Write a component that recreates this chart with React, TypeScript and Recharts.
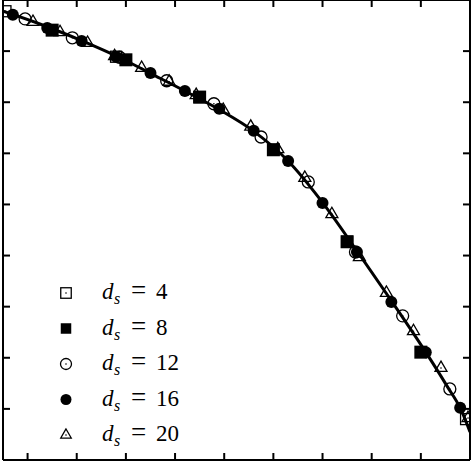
import { ComposedChart, Line, Scatter, XAxis, YAxis, Legend } from 'recharts';

// axis ticks (inward, on all four sides)
const xTicks = [0, 1, 2, 3, 4, 5, 6, 7, 8];
const yTicks = [1, 2, 3, 4, 5, 6, 7, 8];

// fitted curve
const curveX = [-0.5, 0.25, 1.11, 1.88, 2.49, 3.2, 3.91, 4.59, 5.3, 5.99, 6.7, 7.39, 8.1, 8.53, 8.82, 9.0];
const curveY = [8.78, 8.53, 8.2, 7.87, 7.57, 7.22, 6.85, 6.44, 5.85, 5.05, 4.09, 3.13, 2.11, 1.45, 0.98, 0.55];

// d_s = 4
const ds4X = [-0.45, 1.8, 3.5, 5.0, 6.5, 8.92];
const ds4Y = [8.78, 7.89, 7.1, 6.07, 4.27, 0.8];
// d_s = 8
const ds8X = [0.5, 2.0, 3.5, 5.0, 6.5, 8.0];
const ds8Y = [8.41, 7.83, 7.1, 6.07, 4.27, 2.11];
// d_s = 12
const ds12X = [-0.05, 0.91, 1.87, 2.83, 3.79, 4.75, 5.71, 6.67, 7.63, 8.59];
const ds12Y = [8.63, 8.26, 7.88, 7.42, 6.97, 6.32, 5.44, 4.07, 2.82, 1.39];
// d_s = 16
const ds16X = [-0.3, 0.4, 1.1, 1.8, 2.5, 3.2, 3.9, 4.6, 5.3, 6.0, 6.7, 7.4, 8.1, 8.8];
const ds16Y = [8.71, 8.45, 8.2, 7.89, 7.57, 7.22, 6.87, 6.44, 5.85, 5.03, 4.07, 3.09, 2.11, 1.02];
// d_s = 20
const ds20X = [0.11, 0.66, 1.22, 1.77, 2.32, 2.88, 3.43, 3.98, 4.54, 5.09, 5.64, 6.19, 6.75, 7.3, 7.85, 8.41, 8.96];
const ds20Y = [8.57, 8.37, 8.16, 7.9, 7.67, 7.4, 7.14, 6.85, 6.52, 6.08, 5.52, 4.81, 3.97, 3.27, 2.52, 1.8, 0.82];

const legendLabels = ['4', '8', '12', '16', '20'];

const zip = (xs: number[], ys: number[]) => xs.map((x, i) => ({ x, y: ys[i] }));

type MarkerProps = { cx?: number; cy?: number; s?: number };

const OpenSquare = ({ cx = 0, cy = 0, s = 11 }: MarkerProps) => (
  <g>
    <rect x={cx - s / 2} y={cy - s / 2} width={s} height={s} fill="none" stroke="#000" strokeWidth={1.3} />
    <circle cx={cx} cy={cy} r={0.8} fill="#000" />
  </g>
);

const FilledSquare = ({ cx = 0, cy = 0, s = 13 }: MarkerProps) => (
  <rect x={cx - s / 2} y={cy - s / 2} width={s} height={s} fill="#000" />
);

const OpenCircle = ({ cx = 0, cy = 0, s = 12 }: MarkerProps) => (
  <g>
    <circle cx={cx} cy={cy} r={s / 2} fill="none" stroke="#000" strokeWidth={1.3} />
    <circle cx={cx} cy={cy} r={0.8} fill="#000" />
  </g>
);

const FilledCircle = ({ cx = 0, cy = 0, s = 12 }: MarkerProps) => (
  <circle cx={cx} cy={cy} r={s / 2} fill="#000" />
);

const OpenTriangle = ({ cx = 0, cy = 0, s = 12 }: MarkerProps) => {
  const h = s * 0.866;
  const pts = `${cx},${cy - (2 * h) / 3} ${cx - s / 2},${cy + h / 3} ${cx + s / 2},${cy + h / 3}`;
  return (
    <g>
      <polygon points={pts} fill="none" stroke="#000" strokeWidth={1.3} strokeLinejoin="miter" />
      <circle cx={cx} cy={cy} r={0.8} fill="#000" />
    </g>
  );
};

const legendMarkers = [OpenSquare, FilledSquare, OpenCircle, FilledCircle, OpenTriangle];

const renderLegend = () => (
  <svg width={160} height={180}>
    {legendLabels.map((lab, i) => {
      const Marker = legendMarkers[i];
      const cy = 17 + i * 35.5;
      return (
        <g key={lab}>
          <Marker cx={14} cy={cy} s={i === 2 || i === 3 ? 11 : 10.5} />
          <text y={cy + 6} fontFamily="'Liberation Serif', serif" fontSize={23} fill="#000">
            <tspan x={50} fontStyle="italic">d</tspan>
            <tspan x={62} dy={5} fontStyle="italic" fontSize={16}>s</tspan>
            <tspan x={79} dy={-5} fontSize={27}>=</tspan>
            <tspan x={104}>{lab}</tspan>
          </text>
        </g>
      );
    })}
  </svg>
);

const noLabel = () => <g />;

const axisStroke = { stroke: '#000', strokeWidth: 2 };

export default function App() {
  return (
    <div style={{ position: 'absolute', left: 0, top: 0, background: '#fff' }}>
      <ComposedChart width={474} height={462} margin={{ top: 0, right: 4, left: 3, bottom: 2 }}>
        <XAxis
          xAxisId="b"
          type="number"
          dataKey="x"
          orientation="bottom"
          domain={[-0.5, 9]}
          ticks={xTicks}
          mirror
          tick={noLabel}
          tickSize={7}
          axisLine={axisStroke}
          tickLine={axisStroke}
          allowDataOverflow
        />
        <XAxis
          xAxisId="t"
          type="number"
          dataKey="x"
          orientation="top"
          domain={[-0.5, 9]}
          ticks={xTicks}
          mirror
          tick={noLabel}
          tickSize={7}
          axisLine={axisStroke}
          tickLine={axisStroke}
          allowDataOverflow
        />
        <YAxis
          yAxisId="l"
          type="number"
          dataKey="y"
          orientation="left"
          domain={[0, 9]}
          ticks={yTicks}
          mirror
          tick={noLabel}
          tickSize={7}
          axisLine={axisStroke}
          tickLine={axisStroke}
          allowDataOverflow
        />
        <YAxis
          yAxisId="r"
          type="number"
          dataKey="y"
          orientation="right"
          domain={[0, 9]}
          ticks={yTicks}
          mirror
          tick={noLabel}
          tickSize={7}
          axisLine={axisStroke}
          tickLine={axisStroke}
          allowDataOverflow
        />
        <Line
          xAxisId="b"
          yAxisId="l"
          data={zip(curveX, curveY)}
          dataKey="y"
          type="monotone"
          stroke="#000"
          strokeWidth={3}
          dot={false}
          activeDot={false}
          isAnimationActive={false}
        />
        <Scatter xAxisId="b" yAxisId="l" data={zip(ds4X, ds4Y)} dataKey="y" isAnimationActive={false}
          shape={(p: any) => <OpenSquare cx={p.cx} cy={p.cy} />} />
        <Scatter xAxisId="b" yAxisId="l" data={zip(ds12X, ds12Y)} dataKey="y" isAnimationActive={false}
          shape={(p: any) => <OpenCircle cx={p.cx} cy={p.cy} />} />
        <Scatter xAxisId="b" yAxisId="l" data={zip(ds20X, ds20Y)} dataKey="y" isAnimationActive={false}
          shape={(p: any) => <OpenTriangle cx={p.cx} cy={p.cy} />} />
        <Scatter xAxisId="b" yAxisId="l" data={zip(ds8X, ds8Y)} dataKey="y" isAnimationActive={false}
          shape={(p: any) => <FilledSquare cx={p.cx} cy={p.cy} />} />
        <Scatter xAxisId="b" yAxisId="l" data={zip(ds16X, ds16Y)} dataKey="y" isAnimationActive={false}
          shape={(p: any) => <FilledCircle cx={p.cx} cy={p.cy} />} />
        <Legend
          layout="vertical"
          align="center"
          verticalAlign="middle"
          content={renderLegend}
          wrapperStyle={{ position: 'absolute', left: 52, top: 276, width: 160, height: 180 }}
        />
      </ComposedChart>
    </div>
  );
}
